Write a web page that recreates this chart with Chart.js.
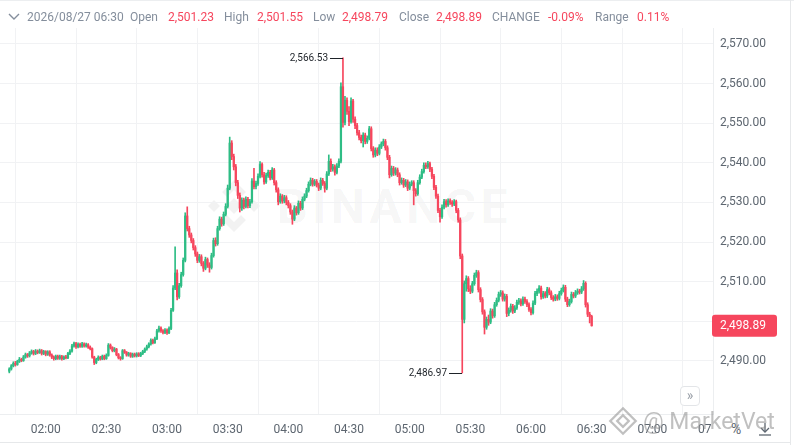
<!DOCTYPE html>
<html><head><meta charset="utf-8">
<script src="https://cdn.jsdelivr.net/npm/chart.js@4.4.1/dist/chart.umd.min.js"></script>
<style>
html,body{margin:0;padding:0;background:#fff;width:794px;height:445px;overflow:hidden;font-family:Roboto,"Noto Sans",Arial,sans-serif;}
#wrap{position:relative;width:794px;height:445px;}
#wm{position:absolute;left:205px;top:178px;height:56px;display:flex;align-items:center;color:rgba(0,0,0,0.05);font-size:48px;font-weight:700;letter-spacing:4.5px;}
#c{position:absolute;left:0;top:0;}
.h{position:absolute;top:10px;font-size:12px;line-height:14px;white-space:nowrap;color:#848e9c;}
.r{color:#f6465d;}
#more{position:absolute;left:680px;top:386px;width:18px;height:18px;border:1px solid #e3e5e8;border-radius:4px;color:#9aa0a8;font-size:14px;line-height:16px;text-align:center;background:#fff;}
#cover{position:absolute;left:712px;top:415px;width:78px;height:27px;background:#fff;}
#pct{position:absolute;left:731px;top:421px;font-size:14px;color:#5d6670;}
#dl{position:absolute;left:758px;top:421px;}
#mv{position:absolute;left:608px;top:406px;font-size:23px;color:rgba(140,140,140,0.55);white-space:nowrap;display:flex;align-items:center;}
#frame{position:absolute;left:790px;top:0;width:1px;height:445px;background:#e6e8ea;}
#bottomline{position:absolute;left:0;top:442px;width:791px;height:1px;background:#e6e8ea;}
#topline{position:absolute;left:0;top:0;width:794px;height:1px;background:#eceef0;}
</style></head>
<body><div id="wrap">
<div id="wm"><svg width="58" height="58" viewBox="0 0 58 58" style="margin-right:14px"><g fill="rgba(0,0,0,0.05)"><polygon points="29,3 41,15 36,20 29,13 22,20 17,15"/><polygon points="29,55 17,43 22,38 29,45 36,38 41,43"/><polygon points="3,29 9,23 15,29 9,35"/><polygon points="55,29 49,23 43,29 49,35"/><polygon points="29,21 37,29 29,37 21,29"/></g></svg>BINANCE</div>
<canvas id="c" width="794" height="445"></canvas>
<div id="topline"></div>
<svg style="position:absolute;left:8px;top:12px" width="12" height="10"><polyline points="1,2 6,7 11,2" fill="none" stroke="#848e9c" stroke-width="1.4"/></svg>
<div class="h" style="left:27px">2026/08/27 06:30</div>
<div class="h" style="left:130px">Open</div>
<div class="h r" style="left:168px">2,501.23</div>
<div class="h" style="left:224px">High</div>
<div class="h r" style="left:257px">2,501.55</div>
<div class="h" style="left:313px">Low</div>
<div class="h r" style="left:342px">2,498.79</div>
<div class="h" style="left:399px">Close</div>
<div class="h r" style="left:436px">2,498.89</div>
<div class="h" style="left:492px">CHANGE</div>
<div class="h r" style="left:548px">-0.09%</div>
<div class="h" style="left:595px">Range</div>
<div class="h r" style="left:637px">0.11%</div>
<div id="more">»</div>
<div id="cover"></div>
<div id="pct">%</div>
<svg id="dl" width="14" height="16"><line x1="7" y1="2" x2="7" y2="11" stroke="#5d6670" stroke-width="1.3"/><polyline points="3,7 7,11 11,7" fill="none" stroke="#5d6670" stroke-width="1.3"/><line x1="1" y1="14" x2="13" y2="14" stroke="#5d6670" stroke-width="1.3"/></svg>
<div id="mv"><svg width="30" height="30" viewBox="0 0 26 26" style="margin-right:5px"><g fill="none" stroke="rgba(140,140,140,0.55)" stroke-width="2"><polygon points="13,2 24,13 13,24 2,13"/><polygon points="13,8 18,13 13,18 8,13"/></g></svg>@ MarketVet</div>
<div id="frame"></div>
<div id="bottomline"></div>
</div>
<script>
const firstCandle = '01:42';
const opens = [
2487.4,2488.0,2488.8,2489.4,2489.1,2489.9,2490.4,2490.1,2491.0,2491.6,
2491.3,2492.0,2492.4,2491.9,2492.5,2492.1,2492.6,2491.9,2492.4,2491.7,
2492.3,2491.5,2491.0,2490.6,2491.2,2490.7,2491.1,2490.6,2491.0,2490.8,
2491.9,2492.5,2493.8,2494.4,2493.6,2494.2,2493.7,2494.3,2493.8,2494.1,
2493.5,2493.1,2491.0,2489.6,2490.4,2490.9,2490.5,2491.2,2490.6,2491.4,
2494.0,2493.4,2492.6,2493.0,2491.6,2490.8,2490.6,2492.6,2492.2,2491.5,
2491.9,2491.2,2491.7,2491.3,2491.8,2491.4,2491.9,2492.4,2493.0,2493.6,
2494.3,2495.2,2494.6,2495.6,2497.6,2498.3,2497.6,2497.2,2497.8,2497.1,
2498.2,2502.8,2508.4,2512.2,2506.2,2509.0,2511.8,2515.4,2526.6,2523.4,
2521.8,2520.4,2518.6,2517.0,2515.4,2516.3,2514.6,2513.4,2515.6,2514.2,
2513.6,2516.6,2520.4,2519.6,2523.4,2525.8,2524.6,2527.0,2529.0,2533.6,
2545.0,2541.6,2539.0,2535.0,2531.8,2528.6,2530.6,2529.0,2530.8,2529.2,
2530.2,2535.4,2534.0,2534.8,2536.6,2539.6,2537.0,2535.2,2536.8,2537.6,
2536.2,2538.2,2535.0,2533.2,2530.2,2531.6,2530.4,2531.2,2530.0,2529.2,
2527.6,2525.8,2528.6,2527.4,2529.8,2528.6,2530.8,2531.6,2533.0,2534.6,
2535.6,2534.6,2535.3,2534.4,2533.6,2535.6,2534.8,2533.6,2537.2,2540.4,
2538.4,2539.0,2537.6,2539.2,2540.4,2559.2,2550.2,2555.8,2553.0,2550.4,
2555.6,2551.0,2549.4,2547.6,2546.4,2545.6,2547.0,2545.4,2546.2,2548.6,
2543.6,2542.0,2543.2,2542.4,2544.0,2544.8,2545.4,2543.8,2541.4,2537.0,
2538.6,2537.4,2538.2,2537.0,2535.0,2535.6,2534.4,2535.2,2533.6,2534.6,
2535.0,2533.0,2532.2,2535.0,2536.4,2537.8,2539.4,2539.0,2539.8,2538.4,
2536.6,2533.8,2531.6,2528.0,2526.4,2528.8,2530.2,2529.4,2530.4,2530.0,
2529.6,2530.2,2528.0,2525.6,2516.5,2500.5,2509.5,2510.8,2508.2,2507.6,
2509.5,2511.6,2512.3,2508.0,2505.5,2502.4,2498.5,2500.5,2499.8,2502.6,
2501.4,2504.2,2505.3,2506.8,2507.2,2505.6,2506.3,2502.0,2502.8,2503.8,
2502.6,2503.4,2504.8,2505.2,2504.4,2505.6,2505.0,2504.2,2503.0,2502.2,
2504.6,2507.0,2507.6,2508.4,2506.2,2507.0,2506.4,2508.0,2507.2,2506.0,
2505.6,2506.2,2505.8,2507.0,2507.8,2508.6,2505.6,2504.2,2505.0,2506.8,
2506.4,2507.2,2507.6,2507.4,2508.2,2509.6,2504.2,2501.8,2501.23];
const highs = [
2488.3,2489.1,2489.8,2489.9,2490.2,2490.9,2490.7,2491.4,2492.0,2491.9,
2492.4,2492.8,2492.7,2492.9,2492.8,2493.0,2492.9,2492.7,2492.6,2492.6,
2492.6,2491.8,2491.3,2491.5,2491.5,2491.5,2491.4,2491.3,2491.4,2492.2,
2492.9,2494.2,2494.8,2494.7,2494.6,2494.5,2494.7,2494.6,2494.5,2494.4,
2493.8,2493.3,2491.2,2490.7,2491.3,2491.2,2491.5,2491.5,2491.8,2494.4,
2494.3,2493.6,2493.4,2493.2,2491.9,2491.1,2492.9,2492.9,2492.4,2492.2,
2492.1,2492.0,2492.0,2492.1,2492.1,2492.2,2492.7,2493.3,2494.0,2494.6,
2495.6,2495.5,2496.0,2498.0,2498.8,2498.6,2497.9,2498.2,2498.1,2498.6,
2503.3,2509.0,2518.8,2513.0,2509.6,2512.4,2516.0,2527.4,2528.9,2524.0,
2522.3,2520.9,2519.1,2517.5,2516.9,2516.8,2515.1,2516.2,2516.0,2514.8,
2517.2,2521.0,2521.1,2524.0,2526.4,2526.3,2527.6,2529.7,2534.4,2546.5,
2545.6,2542.2,2539.6,2535.6,2532.4,2531.2,2531.1,2531.4,2531.3,2530.8,
2536.0,2538.6,2535.4,2537.2,2540.3,2540.0,2537.6,2537.4,2538.2,2538.1,
2538.8,2538.6,2535.5,2533.7,2532.2,2532.0,2531.8,2531.7,2530.5,2529.7,
2528.1,2529.2,2529.0,2530.4,2530.3,2531.4,2532.2,2533.6,2535.2,2536.2,
2536.1,2535.8,2535.8,2534.9,2536.2,2536.1,2535.3,2537.8,2542.0,2541.0,
2539.6,2539.5,2539.8,2541.0,2560.2,2566.53,2556.8,2556.4,2554.2,2556.4,
2556.0,2551.6,2550.0,2548.2,2547.0,2547.6,2547.5,2546.8,2549.2,2549.1,
2544.1,2543.8,2543.8,2544.6,2545.3,2546.0,2545.9,2544.3,2541.9,2539.2,
2539.1,2538.8,2538.7,2537.5,2536.2,2536.1,2535.8,2535.7,2535.2,2535.5,
2535.5,2533.5,2535.6,2537.0,2538.4,2540.0,2540.0,2540.4,2540.2,2538.9,
2537.1,2534.3,2532.1,2528.5,2529.4,2530.8,2530.7,2530.9,2530.9,2530.5,
2530.7,2530.6,2528.5,2526.1,2517.0,2510.2,2511.5,2511.3,2509.0,2510.1,
2512.2,2512.9,2512.8,2508.5,2506.0,2502.9,2501.1,2501.6,2503.2,2503.1,
2504.8,2505.9,2507.4,2507.8,2507.7,2506.9,2506.8,2503.4,2504.4,2504.3,
2504.0,2505.4,2505.8,2505.7,2506.2,2506.1,2505.5,2504.7,2503.5,2505.2,
2507.6,2508.2,2509.0,2508.9,2507.6,2507.5,2508.6,2508.5,2507.7,2506.5,
2506.8,2506.7,2507.6,2508.4,2509.2,2509.1,2506.1,2505.6,2507.4,2507.3,
2507.8,2508.2,2508.1,2508.8,2510.3,2510.0,2504.7,2502.3,2501.55];
const lows = [
2487.0,2487.7,2488.5,2488.7,2488.9,2489.6,2489.8,2489.9,2490.7,2490.9,
2491.0,2491.7,2491.5,2491.6,2491.8,2491.9,2491.5,2491.6,2491.3,2491.4,
2491.2,2490.6,2490.2,2490.3,2490.4,2490.4,2490.2,2490.3,2490.5,2490.6,
2491.6,2492.2,2493.5,2493.2,2493.3,2493.4,2493.4,2493.5,2493.5,2493.2,
2492.8,2490.7,2489.1,2489.3,2490.1,2490.2,2490.3,2490.3,2490.4,2491.2,
2493.0,2492.3,2492.3,2491.3,2490.5,2490.2,2490.4,2491.9,2491.2,2491.2,
2490.9,2490.9,2491.0,2491.0,2491.1,2491.1,2491.6,2492.1,2492.7,2493.3,
2494.0,2494.3,2494.4,2495.4,2497.3,2497.2,2496.8,2496.9,2496.7,2496.9,
2497.9,2502.5,2508.0,2505.4,2505.8,2508.6,2511.4,2515.0,2522.8,2521.2,
2519.8,2518.0,2516.4,2514.8,2514.9,2514.0,2512.6,2513.0,2513.6,2512.4,
2513.2,2516.2,2519.0,2519.2,2523.0,2524.0,2524.2,2526.6,2528.6,2533.2,
2540.8,2538.2,2534.2,2531.0,2527.6,2528.0,2528.4,2528.6,2528.6,2528.7,
2529.8,2533.4,2533.4,2534.3,2536.2,2536.4,2534.6,2534.8,2536.3,2535.7,
2535.8,2534.4,2532.6,2529.4,2529.8,2529.8,2529.9,2529.4,2528.6,2527.0,
2524.5,2525.4,2526.8,2527.0,2528.0,2528.2,2530.4,2531.2,2532.6,2534.2,
2534.1,2534.2,2533.9,2533.0,2533.2,2534.3,2532.6,2533.2,2536.8,2537.8,
2537.9,2536.9,2537.2,2538.8,2540.0,2549.0,2549.6,2552.2,2549.4,2550.0,
2550.2,2548.6,2547.0,2545.8,2545.0,2544.0,2544.8,2544.9,2545.8,2543.0,
2541.4,2541.5,2541.8,2542.0,2543.6,2544.3,2543.2,2540.8,2536.2,2536.6,
2536.8,2536.9,2536.5,2534.4,2534.6,2533.8,2534.0,2533.0,2533.2,2534.2,
2529.4,2531.6,2531.8,2534.6,2536.0,2537.4,2538.5,2538.6,2537.8,2536.0,
2533.2,2531.0,2527.4,2525.0,2526.0,2528.4,2528.8,2529.0,2529.5,2529.0,
2529.2,2527.4,2525.0,2515.8,2486.97,2499.6,2507.6,2507.5,2507.0,2507.2,
2509.1,2511.1,2507.4,2504.9,2501.8,2496.8,2498.0,2499.0,2499.4,2500.8,
2501.0,2503.8,2504.9,2506.3,2505.1,2505.1,2501.2,2501.4,2502.3,2502.0,
2502.2,2503.0,2504.3,2503.9,2504.0,2504.5,2503.7,2502.5,2501.6,2501.8,
2504.2,2506.5,2507.1,2505.6,2505.8,2505.9,2506.0,2506.7,2505.5,2505.1,
2505.2,2505.3,2505.4,2506.6,2507.4,2505.0,2503.7,2503.8,2504.6,2505.9,
2506.0,2506.8,2506.9,2507.0,2507.8,2503.6,2501.2,2499.6,2498.79];
const closes = [
2488.0,2488.8,2489.4,2489.1,2489.9,2490.4,2490.1,2491.0,2491.6,2491.3,
2492.0,2492.4,2491.9,2492.5,2492.1,2492.6,2491.9,2492.4,2491.7,2492.3,
2491.5,2491.0,2490.6,2491.2,2490.7,2491.1,2490.6,2491.0,2490.8,2491.9,
2492.5,2493.8,2494.4,2493.6,2494.2,2493.7,2494.3,2493.8,2494.1,2493.5,
2493.1,2491.0,2489.6,2490.4,2490.9,2490.5,2491.2,2490.6,2491.4,2494.0,
2493.4,2492.6,2493.0,2491.6,2490.8,2490.6,2492.6,2492.2,2491.5,2491.9,
2491.2,2491.7,2491.3,2491.8,2491.4,2491.9,2492.4,2493.0,2493.6,2494.3,
2495.2,2494.6,2495.6,2497.6,2498.3,2497.6,2497.2,2497.8,2497.1,2498.2,
2502.8,2508.4,2512.2,2506.2,2509.0,2511.8,2515.4,2526.6,2523.4,2521.8,
2520.4,2518.6,2517.0,2515.4,2516.3,2514.6,2513.4,2515.6,2514.2,2513.6,
2516.6,2520.4,2519.6,2523.4,2525.8,2524.6,2527.0,2529.0,2533.6,2545.0,
2541.6,2539.0,2535.0,2531.8,2528.6,2530.6,2529.0,2530.8,2529.2,2530.2,
2535.4,2534.0,2534.8,2536.6,2539.6,2537.0,2535.2,2536.8,2537.6,2536.2,
2538.2,2535.0,2533.2,2530.2,2531.6,2530.4,2531.2,2530.0,2529.2,2527.6,
2525.8,2528.6,2527.4,2529.8,2528.6,2530.8,2531.6,2533.0,2534.6,2535.6,
2534.6,2535.3,2534.4,2533.6,2535.6,2534.8,2533.6,2537.2,2540.4,2538.4,
2539.0,2537.6,2539.2,2540.4,2559.2,2550.2,2555.8,2553.0,2550.4,2555.6,
2551.0,2549.4,2547.6,2546.4,2545.6,2547.0,2545.4,2546.2,2548.6,2543.6,
2542.0,2543.2,2542.4,2544.0,2544.8,2545.4,2543.8,2541.4,2537.0,2538.6,
2537.4,2538.2,2537.0,2535.0,2535.6,2534.4,2535.2,2533.6,2534.6,2535.0,
2533.0,2532.2,2535.0,2536.4,2537.8,2539.4,2539.0,2539.8,2538.4,2536.6,
2533.8,2531.6,2528.0,2526.4,2528.8,2530.2,2529.4,2530.4,2530.0,2529.6,
2530.2,2528.0,2525.6,2516.5,2500.5,2509.5,2510.8,2508.2,2507.6,2509.5,
2511.6,2512.3,2508.0,2505.5,2502.4,2498.5,2500.5,2499.8,2502.6,2501.4,
2504.2,2505.3,2506.8,2507.2,2505.6,2506.3,2502.0,2502.8,2503.8,2502.6,
2503.4,2504.8,2505.2,2504.4,2505.6,2505.0,2504.2,2503.0,2502.2,2504.6,
2507.0,2507.6,2508.4,2506.2,2507.0,2506.4,2508.0,2507.2,2506.0,2505.6,
2506.2,2505.8,2507.0,2507.8,2508.6,2505.6,2504.2,2505.0,2506.8,2506.4,
2507.2,2507.6,2507.4,2508.2,2509.6,2504.2,2501.8,2501.23,2498.89];
const xTickLabels = ['02:00','02:30','03:00','03:30','04:00','04:30','05:00','05:30','06:00','06:30','07:00','07:30'];
const yTickValues = [2490,2500,2510,2520,2530,2540,2550,2560,2570];

const GREEN = '#2ebd85', RED = '#f6465d';
const toMin = s => { const p = s.split(':').map(Number); return p[0]*60 + p[1]; };
const fmt = v => Number(v).toLocaleString('en-US',{minimumFractionDigits:2, maximumFractionDigits:2});
const t0 = toMin(firstCandle);
const n = closes.length;
const wickData = [], bodyData = [], colors = [];
for (let i = 0; i < n; i++) {
  wickData.push({x: t0 + i, y: [lows[i], highs[i]]});
  bodyData.push({x: t0 + i, y: [opens[i], closes[i]]});
  colors.push(closes[i] >= opens[i] ? GREEN : RED);
}
const xTickVals = xTickLabels.map(toMin);

const marks = {
  id: 'marks',
  afterDatasetsDraw(chart) {
    const {ctx, scales: {x, y}} = chart;
    let hi = 0, lo = 0;
    for (let i = 1; i < n; i++) { if (highs[i] > highs[hi]) hi = i; if (lows[i] < lows[lo]) lo = i; }
    ctx.save();
    ctx.font = '10px Roboto, Arial, sans-serif';
    ctx.fillStyle = '#1e2329'; ctx.strokeStyle = '#1e2329'; ctx.lineWidth = 1;
    ctx.textAlign = 'right'; ctx.textBaseline = 'middle';
    [[hi, highs[hi]], [lo, lows[lo]]].forEach(([i, v]) => {
      const px = Math.round(x.getPixelForValue(t0 + i)), py = Math.round(y.getPixelForValue(v)) + 0.5;
      ctx.beginPath(); ctx.moveTo(px - 13, py); ctx.lineTo(px, py); ctx.stroke();
      ctx.fillText(fmt(v), px - 15, py);
    });
    ctx.restore();
  },
  afterDraw(chart) {
    const {ctx, scales: {y}} = chart;
    const py = y.getPixelForValue(closes[n - 1]);
    ctx.save();
    ctx.fillStyle = RED;
    ctx.beginPath();
    if (ctx.roundRect) ctx.roundRect(712, py - 11, 65, 22, 3); else ctx.rect(712, py - 11, 65, 22);
    ctx.fill();
    ctx.fillStyle = '#fff'; ctx.font = '12px Roboto, Arial, sans-serif';
    ctx.textAlign = 'left'; ctx.textBaseline = 'middle';
    ctx.fillText(fmt(closes[n - 1]), 720, py + 0.5);
    ctx.restore();
  }
};

new Chart(document.getElementById('c'), {
  type: 'bar',
  data: { datasets: [
    { data: wickData, backgroundColor: colors, barThickness: 1, grouped: false, order: 2, borderWidth: 0 },
    { data: bodyData, backgroundColor: colors, barThickness: 1.6, grouped: false, order: 1, borderWidth: 0, minBarLength: 1 }
  ]},
  options: {
    responsive: false, animation: false, devicePixelRatio: 1,
    layout: { padding: { top: 28, left: 0, right: 0, bottom: 0 } },
    plugins: { legend: { display: false }, tooltip: { enabled: false } },
    scales: {
      x: {
        type: 'linear', min: 97.4, max: 450, offset: false,
        afterBuildTicks: s => { s.ticks = xTickVals.map(v => ({value: v})); },
        afterFit: s => { s.height = 31; },
        grid: { color: '#f1f2f4', drawTicks: false },
        border: { display: true, color: '#eceef0' },
        ticks: { autoSkip: false, maxRotation: 0, padding: 9, color: '#5d6670', font: { size: 12, family: 'Roboto, Arial, sans-serif' },
          callback: v => { const i = xTickVals.indexOf(v); return i >= 0 ? xTickLabels[i] : ''; } }
      },
      y: {
        position: 'right', min: 2476.62, max: 2574.03,
        afterBuildTicks: s => { s.ticks = yTickValues.map(v => ({value: v})); },
        afterFit: s => { s.width = 81; },
        grid: { color: '#f1f2f4', drawTicks: false },
        border: { display: true, color: '#eceef0' },
        ticks: { padding: 7, color: '#5d6670', font: { size: 12, family: 'Roboto, Arial, sans-serif' }, callback: v => fmt(v) }
      }
    }
  },
  plugins: [marks]
});
</script>
</body></html>
